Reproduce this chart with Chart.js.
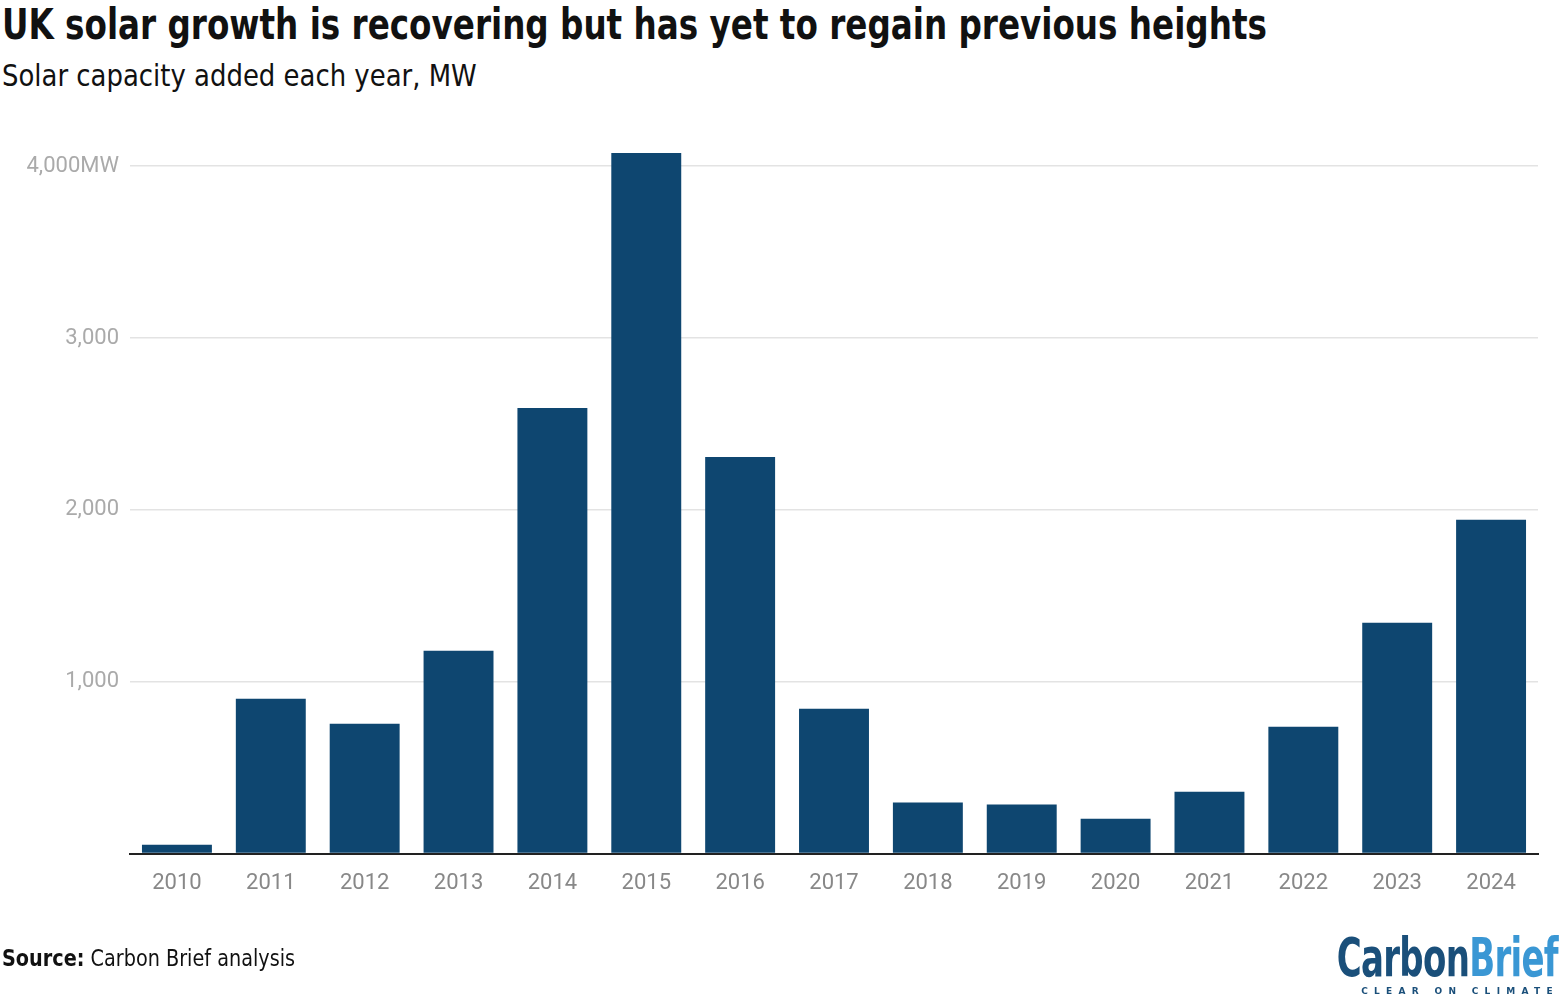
<!DOCTYPE html>
<html>
<head>
<meta charset="utf-8">
<script src="https://cdn.jsdelivr.net/npm/chart.js@4"></script>
<style>
    body { margin: 0; background: #fff; width: 1560px; height: 1002px; overflow: hidden; position: relative; }
    .narrow { font-family: 'DejaVu Sans Condensed', 'DejaVu Sans', sans-serif; transform-origin: left top; white-space: nowrap; position: absolute; color: #111; }
    #title { left: 2px; top: 0px; font-weight: bold; font-size: 42px; transform: scaleX(0.863); }
    #subtitle { left: 2px; top: 57px; font-size: 31px; transform: scaleX(0.93); }
    #source { left: 2px; top: 945px; font-size: 23px; transform: scaleX(0.93); }
    #logo { position: absolute; right: 2px; top: 929px; text-align: right; }
    #logo .name { font-family: 'DejaVu Sans Condensed', sans-serif; font-size: 54px; font-weight: bold; letter-spacing: -1px; line-height: 58px; transform: scaleX(0.70); transform-origin: right top; white-space: nowrap; }
    #logo .tag { font-family: 'DejaVu Sans', sans-serif; font-size: 9px; font-weight: bold; letter-spacing: 6.3px; color: #1a4f7a; margin-top: -1px; margin-right: -1px; }
    #chartCanvas { position: absolute; left: 0; top: 0; }
</style>
</head>
<body>
<div id="title" class="narrow">UK solar growth is recovering but has yet to regain previous heights</div>
<div id="subtitle" class="narrow">Solar capacity added each year, MW</div>
<canvas id="chartCanvas"></canvas>
<div id="source" class="narrow"><b>Source:</b> Carbon Brief analysis</div>
<div id="logo">
    <div class="name"><span style="color:#1a4f7a">Carbon</span><span style="color:#3a97d4">Brief</span></div>
    <div class="tag">CLEAR ON CLIMATE</div>
</div>
<script>
const years = ['2010', '2011', '2012', '2013', '2014', '2015', '2016', '2017', '2018', '2019', '2020', '2021', '2022', '2023', '2024'];
const capacityAdded = [52, 901, 756, 1180, 2593, 4076, 2308, 843, 297, 285, 203, 360, 738, 1343, 1942];
const yTicks = [0, 1000, 2000, 3000, 4000];

function drawChart() {
    const chartCanvas = document.getElementById('chartCanvas');
    const ctx = chartCanvas.getContext('2d');

    const data = {
        labels: years,
        datasets: [{
            label: 'Solar capacity added',
            data: capacityAdded,
            backgroundColor: '#0e4670',
            barPercentage: 0.745,
            categoryPercentage: 1
        }]
    };

    const config = {
        type: 'bar',
        data: data,
        options: {
            responsive: false,
            maintainAspectRatio: false,
            animation: false,
            layout: {
                padding: { left: 0, right: 22, top: 149, bottom: 88 }
            },
            plugins: {
                legend: { display: false },
                tooltip: { enabled: false }
            },
            scales: {
                x: {
                    grid: { display: false, drawTicks: false },
                    border: { display: true, color: '#222', width: 2 },
                    ticks: {
                        color: '#888',
                        font: { family: 'Roboto', size: 22 },
                        padding: 17
                    }
                },
                y: {
                    min: 0,
                    max: 4100,
                    afterBuildTicks: (axis) => {
                        axis.ticks = yTicks.map(v => ({ value: v }));
                    },
                    afterFit: (axis) => {
                        axis.width = 130;
                    },
                    grid: {
                        color: (c) => c.tick && c.tick.value === 0 ? 'rgba(0,0,0,0)' : '#e3e3e3',
                        lineWidth: 1.5,
                        drawTicks: false
                    },
                    border: { display: false },
                    ticks: {
                        color: '#aaa',
                        font: { family: 'Roboto', size: 22 },
                        padding: 11,
                        callback: (v) => {
                            if (v === 0) return '';
                            const s = v.toLocaleString('en-GB');
                            return v === 4000 ? s + 'MW' : s;
                        }
                    }
                }
            }
        }
    };

    chartCanvas.width = 1560;
    chartCanvas.height = 1002;
    window.myChart = new Chart(ctx, config);
}

document.fonts.load('22px Roboto').then(drawChart, drawChart);
</script>
</body>
</html>
